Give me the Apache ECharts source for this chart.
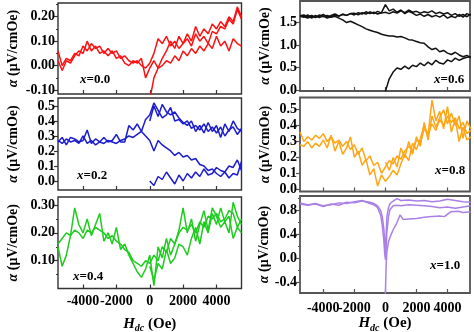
<!DOCTYPE html>
<html><head><meta charset="utf-8">
<script src="https://cdn.jsdelivr.net/npm/echarts@6/dist/echarts.min.js"></script>
<style>html,body{margin:0;padding:0;background:#fff}#c{width:474px;height:332px}</style>
</head><body><div id="c"></div>
<script>
// ---- field values (Oe) ----
const H = [-5500,-5250,-5000,-4750,-4500,-4250,-4000,-3750,-3500,-3250,-3000,-2750,-2500,-2250,-2000,-1750,-1500,-1250,-1000,-750,-500,-250,0,250,500,750,1000,1250,1500,1750,2000,2250,2500,2750,3000,3250,3500,3750,4000,4250,4500,4750,5000,5250,5500];
const HV = [0,250,500,750,1000,1250,1500,1750,2000,2250,2500,2750,3000,3250,3500,3750,4000,4250,4500,4750,5000,5250,5500];
const H6 = [-5500,-5000,-4500,-4000,-3500,-3000,-2500,-2000,-1500,-1000,-750,-500,-300,-200,-100,-50,0,50,100,200,300,500,750,1000,1500,2000,2500,3000,3500,4000,4500,5000,5500];
const H6V = [0,50,100,200,320,500,750,950,1150,1500,2000,2500,3000,3500,3800,4200,4700,5000,5500];

// ---- x = 0.0 ----
const a00Down = [0.06,0.00,0.03,0.02,0.05,0.04,0.08,0.06,0.09,0.07,0.08,0.05,0.07,0.05,0.06,0.03,0.04,0.02,0.01,0.02,0.00,-0.01,0.01,0.05,0.11,0.09,0.12,0.08,0.10,0.07,0.09,0.11,0.08,0.13,0.10,0.12,0.09,0.14,0.13,0.16,0.15,0.19,0.17,0.23,0.19];
const a00Up = [0.02,-0.02,0.02,0.01,0.04,0.06,0.05,0.10,0.06,0.08,0.05,0.06,0.04,0.06,0.03,0.04,0.01,0.00,0.02,0.01,0.03,-0.05,-0.01,0.02,-0.01,0.03,0.06,0.10,0.07,0.12,0.09,0.13,0.10,0.16,0.12,0.15,0.13,0.17,0.15,0.18,0.16,0.20,0.18,0.24,0.20];
const a00Virgin = [-0.14,-0.05,-0.01,0.00,0.02,0.01,0.04,0.02,0.06,0.04,0.07,0.05,0.08,0.06,0.09,0.07,0.12,0.08,0.10,0.06,0.11,0.09,0.08];
// ---- x = 0.2 ----
const a02Down = [0.27,0.25,0.28,0.26,0.27,0.25,0.30,0.25,0.27,0.24,0.26,0.25,0.27,0.26,0.25,0.27,0.28,0.30,0.29,0.31,0.33,0.30,0.27,0.20,0.27,0.24,0.22,0.20,0.17,0.19,0.16,0.17,0.14,0.15,0.11,0.10,0.07,0.08,0.05,0.03,0.06,0.02,0.05,0.04,0.13];
const a02Up = [0.26,0.29,0.24,0.29,0.28,0.26,0.27,0.34,0.25,0.28,0.26,0.29,0.26,0.27,0.31,0.26,0.26,0.37,0.34,0.38,0.33,0.41,0.44,0.52,0.47,0.42,0.44,0.49,0.40,0.41,0.38,0.40,0.35,0.37,0.34,0.38,0.33,0.36,0.32,0.36,0.30,0.34,0.36,0.31,0.35];
const a02Down2 = [0.40,0.50,0.43,0.51,0.46,0.44,0.46,0.42,0.39,0.37,0.40,0.33,0.37,0.32,0.39,0.33,0.37,0.29,0.38,0.33,0.40,0.35,0.33];
const a02Virgin = [0.00,-0.03,0.03,0.01,0.06,0.02,-0.02,0.04,0.00,0.05,0.02,0.06,0.03,0.08,0.04,0.05,0.09,0.07,0.06,0.10,0.09,0.14,0.07];
// ---- x = 0.4 ----
const a04Down = [0.16,0.18,0.20,0.19,0.21,0.20,0.18,0.21,0.20,0.22,0.21,0.20,0.18,0.19,0.17,0.16,0.14,0.13,0.10,0.09,0.08,0.10,0.09,0.12,0.10,0.15,0.13,0.18,0.16,0.20,0.22,0.21,0.23,0.20,0.24,0.22,0.26,0.25,0.27,0.24,0.25,0.28,0.27,0.22,0.25];
const a04Up = [0.15,0.08,0.12,0.19,0.29,0.23,0.20,0.25,0.19,0.23,0.27,0.17,0.20,0.16,0.22,0.14,0.16,0.12,0.09,0.06,0.04,0.07,0.12,0.01,0.15,0.11,0.18,0.12,0.16,0.21,0.29,0.20,0.25,0.17,0.23,0.28,0.21,0.29,0.26,0.22,0.24,0.20,0.31,0.26,0.23];
const a04Virgin = [0.08,0.03,0.09,0.07,0.14,0.09,0.11,0.16,0.15,0.12,0.18,0.22,0.16,0.24,0.20,0.27,0.23,0.29,0.24,0.26,0.18,0.22,0.20];
// ---- x = 0.6 ----
const a06Down = [1.66,1.63,1.60,1.64,1.61,1.67,1.63,1.66,1.62,1.64,1.60,1.56,1.50,1.53,1.49,1.45,1.41,1.36,1.33,1.30,1.28,1.24,1.22,1.20,1.20,1.18,1.19,1.16,1.12,1.11,1.08,1.05,1.04,0.96,0.90,0.93,0.85,0.88,0.82,0.79,0.84,0.78,0.74,0.77,0.72];
const a06Up = [1.65,1.67,1.63,1.66,1.62,1.64,1.68,1.62,1.66,1.69,1.65,1.68,1.66,1.70,1.67,1.72,1.69,1.74,1.70,1.73,1.69,1.72,1.90,1.76,1.80,1.73,1.78,1.70,1.75,1.71,1.66,1.69,1.64,1.68,1.63,1.66,1.62,1.67,1.60,1.64,1.61,1.68,1.62,1.70,1.66];
const a06Down2 = [1.64,1.62,1.67,1.60,1.66,1.61,1.65,1.60,1.63,1.67,1.64,1.69,1.66,1.70,1.71,1.67,1.72,1.69,1.74,1.70,1.75,1.71,1.73,1.70,1.74,1.71,1.76,1.72,1.78,1.73,1.75,1.71,1.74,1.72,1.76,1.70,1.73,1.69,1.72,1.66,1.70,1.64,1.68,1.63,1.69];
const a06Virgin = [-0.03,0.25,0.40,0.49,0.46,0.53,0.47,0.55,0.52,0.60,0.54,0.62,0.56,0.66,0.60,0.58,0.67,0.63,0.71,0.66,0.70,0.73,0.74];
// ---- x = 0.8 ----
const a08Down = [0.36,0.30,0.33,0.31,0.34,0.32,0.35,0.30,0.33,0.29,0.31,0.27,0.30,0.25,0.28,0.22,0.26,0.18,0.21,0.15,0.17,0.10,0.14,0.18,0.16,0.21,0.19,0.24,0.27,0.24,0.31,0.29,0.38,0.35,0.41,0.37,0.44,0.40,0.46,0.42,0.45,0.38,0.42,0.35,0.37];
const a08Up = [0.28,0.27,0.30,0.26,0.29,0.27,0.31,0.26,0.34,0.24,0.30,0.22,0.26,0.33,0.20,0.24,0.15,0.19,0.09,0.13,0.02,0.09,0.05,0.08,0.12,0.09,0.16,0.22,0.18,0.29,0.25,0.32,0.40,0.34,0.56,0.43,0.49,0.38,0.52,0.36,0.44,0.30,0.39,0.31,0.33];
const a08Virgin = [0.17,0.12,0.20,0.14,0.26,0.20,0.30,0.22,0.33,0.27,0.42,0.31,0.46,0.39,0.45,0.50,0.41,0.48,0.40,0.46,0.32,0.43,0.38];
// ---- x = 1.0 ----
const a10Down = [0.91,0.89,0.92,0.88,0.90,0.93,0.92,0.95,0.97,0.92,0.90,0.85,0.72,0.55,0.30,0.10,-0.02,0.20,0.45,0.70,0.82,0.88,0.89,0.88,0.90,0.89,0.88,0.87,0.85,0.86,0.84,0.86,0.88];
const a10Up = [0.93,0.90,0.91,0.87,0.91,0.89,0.94,0.93,0.96,0.94,0.92,0.88,0.80,0.70,0.50,0.30,0.05,0.40,0.70,0.85,0.92,0.96,1.00,0.97,0.98,0.96,0.97,0.95,0.96,0.99,0.97,0.95,0.94];
const a10Virgin = [-0.60,-0.10,0.12,0.28,0.37,0.48,0.60,0.73,0.65,0.66,0.67,0.69,0.70,0.71,0.70,0.78,0.79,0.77,0.78];

// ---- ticks / labels ----
const xTicks = [-4000,-2000,0,2000,4000];
const xLabelsA = [-4000,0,4000];
const xLabelsB = [-2000,2000];
const yTicks = [[-0.1,0,0.1,0.2],[0,0.1,0.2,0.3,0.4,0.5],[0.1,0.2,0.3],[0,0.5,1.0,1.5],[0,0.1,0.2,0.3,0.4,0.5],[-0.4,0,0.4,0.8]];
const yMinor = [[-0.05,0.05,0.15,0.25],[],[0.05,0.15,0.25],[],[],[-0.2,0.2,0.6,1.0]];
const yDigits = [2,1,2,1,1,1];
const yRange = [[-0.116,0.256],[-0.06,0.553],[0.0,0.329],[-0.022,1.98],[-0.014,0.577],[-0.578,1.045]];
const labels = ['0.0','0.2','0.4','0.6','0.8','1.0'];
const colors = ['#ff1010','#1c1cd0','#1ecc1e','#111111','#ffa516','#aa80e6'];

// ---- layout ----
const FONT = "'Liberation Serif','Times New Roman',serif";
const grids = [
  {left:58, top:3, width:183.5, height:91},
  {left:58, top:98, width:183.5, height:92},
  {left:58, top:197, width:183.5, height:91.5},
  {left:300, top:1, width:170, height:90},
  {left:300, top:97.5, width:170, height:94},
  {left:300, top:196, width:170, height:97}
];
const xRange = [[-5500,5500],[-5500,5500],[-5500,5500],[-5500,5450],[-5500,5450],[-5500,5450]];
const zip = (xs, ys) => xs.map((x,i)=>[x, ys[i]]);
const curves = [
  [[H,a00Down],[H,a00Up],[HV,a00Virgin]],
  [[H,a02Down],[H,a02Up],[HV,a02Down2],[HV,a02Virgin]],
  [[H,a04Down],[H,a04Up],[HV,a04Virgin]],
  [[H,a06Down],[H,a06Up],[H,a06Down2],[HV,a06Virgin]],
  [[H,a08Down],[H,a08Up],[HV,a08Virgin]],
  [[H6,a10Down],[H6,a10Up],[H6V,a10Virgin]]
];

const xAxis = [], yAxis = [], series = [], graphic = [];
const xLabelStyle = (i) => ({color:'#000', fontFamily:FONT, fontWeight:'bold', fontSize:14, margin: i===2?6:8,
  formatter:v=>String(v), hideOverlap:false, showMinLabel:true, showMaxLabel:true});
grids.forEach((g,i)=>{
  const bottomRow = (i===2 || i===5);
  const frameColor = i<3 ? '#333' : '#555';
  g.show = true; g.borderColor = frameColor; g.borderWidth = i<3 ? 1.4 : 1.8;
  g.containLabel = false; g.outerBoundsMode = 'none';
  const xIdx = xAxis.length;
  xAxis.push(Object.assign({
    type:'value', gridIndex:i, min:xRange[i][0], max:xRange[i][1], position:'bottom',
    axisLine:{show:false, onZero:false}, splitLine:{show:false},
    axisTick:{show:true, inside:true, length:4, customValues:xTicks, lineStyle:{color:frameColor, width:1.2}},
    axisLabel:Object.assign({show:bottomRow, customValues:xLabelsA}, xLabelStyle(i))
  }, bottomRow ? {
    name:'{h|H}{s|dc}{n| (Oe)}',
    nameLocation:'middle', nameGap: i===2?26:21,
    nameTextStyle:{rich:{
      h:{fontFamily:FONT, fontStyle:'italic', fontWeight:'bold', fontSize:15, color:'#000'},
      s:{fontFamily:FONT, fontStyle:'italic', fontWeight:'bold', fontSize:10, color:'#000', padding:[9,0,0,0]},
      n:{fontFamily:FONT, fontWeight:'bold', fontSize:15, color:'#000'}
    }}
  } : {}));
  if (bottomRow){
    xAxis.push({
      type:'value', gridIndex:i, min:xRange[i][0], max:xRange[i][1], position:'bottom', offset:0,
      axisLine:{show:false, onZero:false}, splitLine:{show:false}, axisTick:{show:false},
      axisLabel:Object.assign({show:true, customValues:xLabelsB}, xLabelStyle(i))
    });
  }
  const d = yDigits[i];
  const yIdx = yAxis.length;
  yAxis.push({
    type:'value', gridIndex:i, min:yRange[i][0], max:yRange[i][1], position:'left',
    axisLine:{show:false, onZero:false}, splitLine:{show:false},
    axisTick:{show:true, inside:false, length:4, customValues:yTicks[i], lineStyle:{color:frameColor, width:1.2}},
    axisLabel:{customValues:yTicks[i], formatter:v=>v.toFixed(d), showMinLabel:true, showMaxLabel:true, margin:3, color:'#000', fontFamily:FONT, fontWeight:'bold', fontSize:14},
    name:'{a|α} (μV/cmOe)', nameLocation:'middle', nameGap: i<3?38:28,
    nameTextStyle:{fontFamily:FONT, fontWeight:'bold', fontSize:14, color:'#000',
      rich:{a:{fontFamily:FONT, fontStyle:'italic', fontWeight:'bold', fontSize:14, color:'#000'}}}
  });
  if (yMinor[i].length){
    yAxis.push({
      type:'value', gridIndex:i, min:yRange[i][0], max:yRange[i][1], position:'left', offset:0,
      axisLine:{show:false, onZero:false}, splitLine:{show:false}, axisLabel:{show:false},
      axisTick:{show:true, inside:false, length:2, customValues:yMinor[i], lineStyle:{color:frameColor, width:1.2}}
    });
  }
  curves[i].forEach(([xs,ys])=>{
    series.push({type:'line', xAxisIndex:xIdx, yAxisIndex:yIdx, data:zip(xs,ys), showSymbol:false, symbol:'none',
      lineStyle:{color:colors[i], width:1.5}, itemStyle:{color:colors[i]}, clip:true, silent:true});
  });
});

const annPos = [[80,80],[77,176],[73,277],[434,80],[435,171],[430,266]];
annPos.forEach((p,i)=>{
  graphic.push({type:'text', x:p[0], y:p[1], silent:true, style:{
    text:'{i|x}=' + labels[i], verticalAlign:'middle', fill:'#000',
    font:"bold 13px " + FONT,
    rich:{i:{fontFamily:FONT, fontStyle:'italic', fontWeight:'bold', fontSize:13, fill:'#000'}}
  }});
});

const chart = echarts.init(document.getElementById('c'), null, {renderer:'canvas'});
chart.setOption({animation:false, grid:grids, xAxis, yAxis, series, graphic});
</script></body></html>
